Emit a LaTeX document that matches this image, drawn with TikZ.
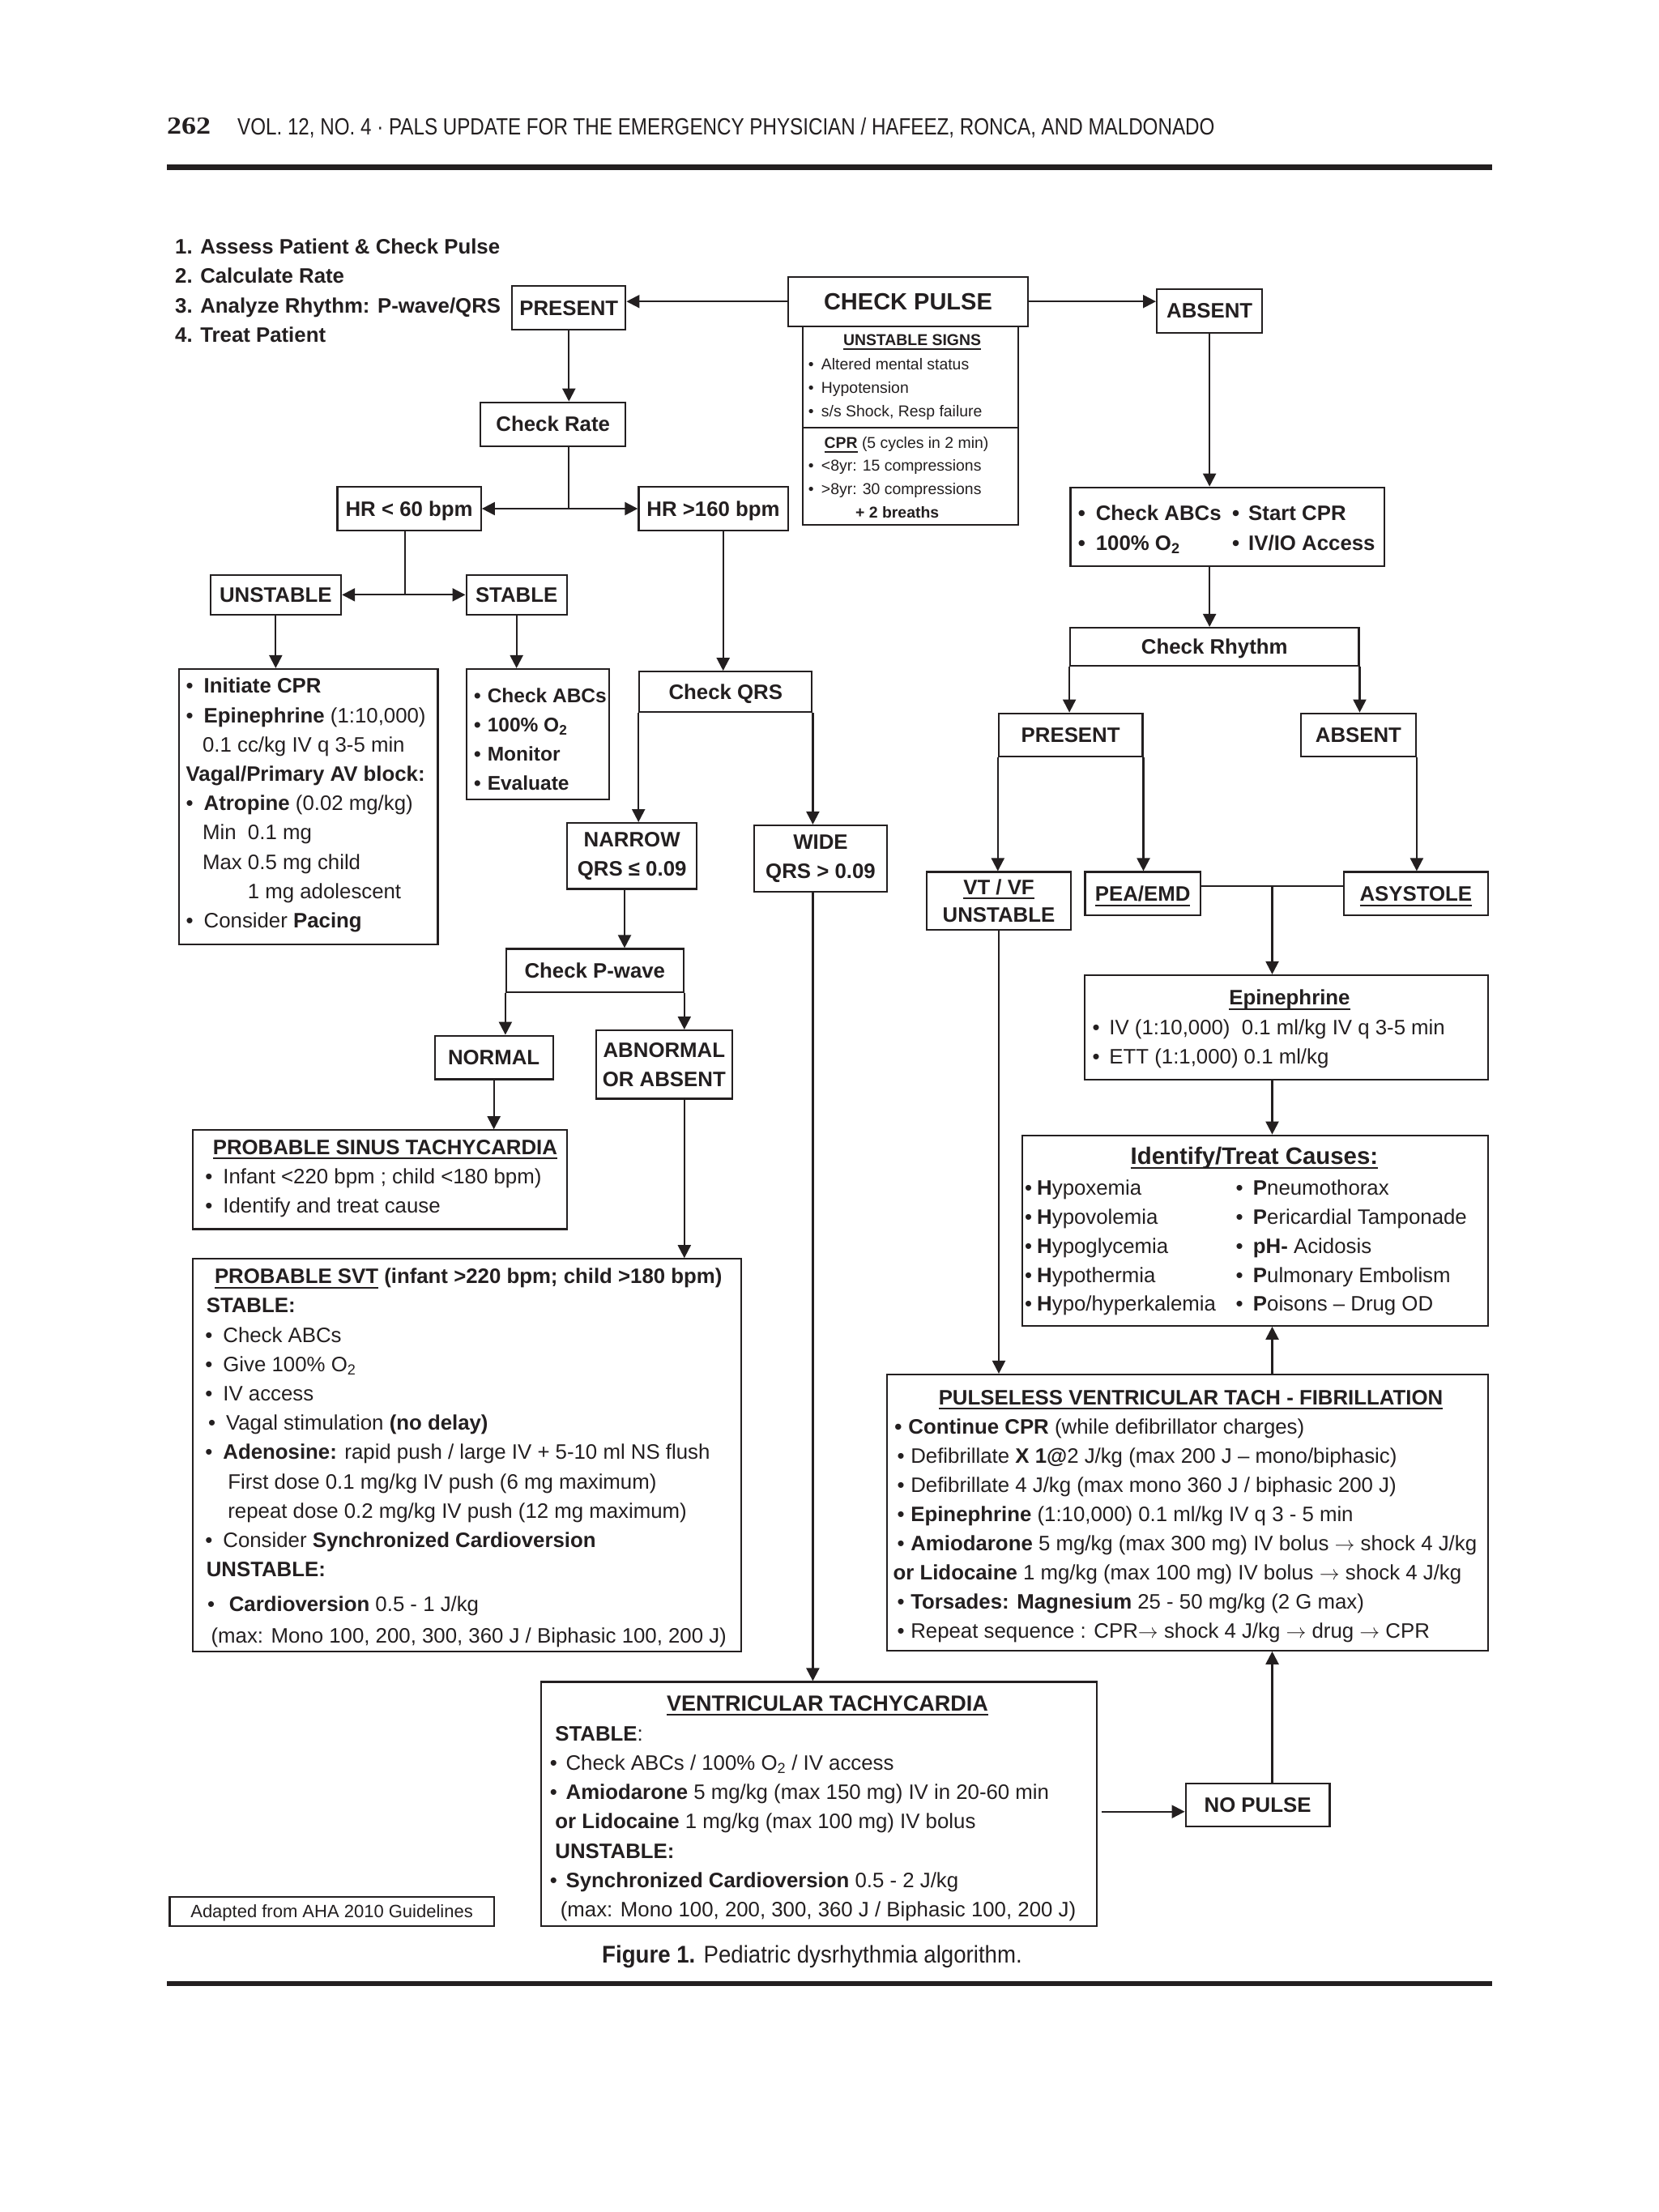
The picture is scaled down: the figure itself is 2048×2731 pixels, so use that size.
\documentclass[tikz,border=0pt]{standalone}
\usepackage{graphicx}
\usepackage{fontspec}
\setmainfont{Liberation Sans}
\newfontfamily\hdserif{Liberation Serif}
\usetikzlibrary{arrows.meta,fit}
\definecolor{ink}{RGB}{35,31,32}
\newcommand\fsz[2]{\fontsize{#1pt}{#2pt}\selectfont}
\newcommand\bu[1][10pt]{\textbullet\hspace{#1}}
\newcommand\fst{\rule{0pt}{22pt}}
\newcommand\fss{\rule{0pt}{17pt}}
\newcommand\uln[1]{\leavevmode\setbox0=\hbox{#1}\rlap{\rule[-6pt]{\wd0}{2pt}}\box0\relax}
\newcommand\ra{\ensuremath{\rightarrow}}
% labelled box: [label style]{x1}{y1}{x2}{y2}{name}{text}
\newcommand\lbox[7][]{%
  \node[bx, fit={(#2,#3)(#4,#5)}] (#6) {};
  \node[lbl,#1] (#6-t) at (#6.center) {#7};}
\begin{document}
\begin{tikzpicture}[x=1pt,y=-1pt,
  bx/.style={draw=ink, line width=2.2pt, inner sep=0pt},
  lbl/.style={inner sep=0pt, align=center, text=ink, font=\bfseries\fsz{25.8}{36},
              text height=18.5pt, text depth=0pt},
  lbl2/.style={text height=, text depth=},
  tb/.style={inner sep=0pt, anchor=north west, align=left, text=ink,
             font=\fsz{25.8}{36.2}},
  hd/.style={inner sep=0pt, anchor=base, text=ink, font=\bfseries\fsz{25.8}{30}},
  arr/.style={draw=ink, line width=2.2pt, -{Triangle[length=16pt,width=16pt]}},
  ln/.style={draw=ink, line width=2.2pt}]
\fill[white] (0,0) rectangle (2048,2731);
\useasboundingbox (0,0) rectangle (2048,2731);

% ---------- header ----------
\node[anchor=base west, inner sep=0pt, text=ink] (pgno) at (206,165)
  {\resizebox{54pt}{20pt}{\hdserif\bfseries 262}};
\node[anchor=base west, inner sep=0pt, text=ink] (runhead) at (293,166)
  {\resizebox{1206pt}{21pt}{VOL. 12, NO. 4 · PALS UPDATE FOR THE EMERGENCY PHYSICIAN / HAFEEZ, RONCA, AND MALDONADO}};
\fill[ink] (206,202.7) rectangle (1842,210);

% ---------- step list ----------
\node[tb, font=\bfseries\fsz{25.8}{36.3}] (steps) at (216,291.3)
  {\fst 1. Assess Patient \& Check Pulse\\2. Calculate Rate\\3. Analyze Rhythm: P-wave/QRS\\4. Treat Patient};

% ---------- top ----------
\node[bx, fit={(990.8,402.7)(1257.1,648.3)}] (usbox) {};
\coordinate (dv) at (990.8,528.3);
\draw[ln] (dv) -- (dv -| usbox.east);
\lbox[font=\bfseries\fsz{29}{34}, text height=20.8pt]{973}{341.7}{1268.9}{402.7}{cp}{CHECK PULSE}
\node[hd, font=\bfseries\fsz{19.4}{29}] (ushead) at (1126,426.3) {\uln{UNSTABLE SIGNS}};
\node[tb, font=\fsz{19.4}{28.9}] (uslist) at (997.6,439)
  {\fss\bu[9.4pt]Altered mental status\\\bu[9.4pt]Hypotension\\\bu[9.4pt]s/s Shock, Resp failure};
\node[hd, font=\fsz{19.4}{29}] (cprhead) at (1119,553) {\uln{\textbf{CPR}} (5 cycles in 2 min)};
\node[tb, font=\fsz{19.4}{29}] (cprlist) at (997.6,564.3)
  {\fss\bu[9.4pt]<8yr: 15 compressions\\\bu[9.4pt]>8yr: 30 compressions\\\hspace*{58.4pt}\textbf{+ 2 breaths}};

\lbox{632.3}{353.3}{772.3}{407.3}{present}{PRESENT}
\lbox{1428.1}{356.7}{1558.2}{410.7}{absent}{ABSENT}

% ---------- left branch ----------
\lbox{593.2}{496.7}{772.3}{550.7}{rate}{Check Rate}
\lbox{416.4}{601}{593.8}{655}{hrlow}{HR < 60 bpm}
\lbox{788.4}{601}{972.7}{655}{hrhigh}{HR >160 bpm}
\lbox{259.6}{710}{421.1}{758.7}{unst}{UNSTABLE}
\lbox{575.6}{710}{699.7}{758.7}{stab}{STABLE}

\node[bx, fit={(220.6,826)(540.4,1165.7)}] (cprbox) {};
\node[tb] (cprtxt) at (229.5,833.7)
  {\fst\bu[13pt]\textbf{Initiate CPR}\\
   \bu[13pt]\textbf{Epinephrine} (1:10,000)\\
   \hspace*{20.4pt}0.1 cc/kg IV q 3-5 min\\
   \textbf{Vagal/Primary AV block:}\\
   \bu[13pt]\textbf{Atropine} (0.02 mg/kg)\\
   \hspace*{20.4pt}Min\ \ 0.1 mg\\
   \hspace*{20.4pt}Max 0.5 mg child\\
   \hspace*{76.2pt}1 mg adolescent\\
   \bu[13pt]Consider \textbf{Pacing}};

\node[bx, fit={(575.6,826)(751.8,987.3)}] (sbox) {};
\node[tb, font=\bfseries\fsz{24.5}{36.1}] (stxt) at (585,845.3)
  {\fst\bu[8pt]Check ABCs\\\bu[8pt]100\% O\textsubscript{2}\\\bu[8pt]Monitor\\\bu[8pt]Evaluate};

\lbox{789.3}{829.2}{1002.3}{879.2}{qrs}{Check QRS}
\lbox[lbl2]{700}{1016.1}{860.3}{1097.5}{narrow}{NARROW\\QRS ≤ 0.09}
\lbox[lbl2]{930.7}{1019}{1095.3}{1101.2}{wide}{WIDE\\QRS > 0.09}
\lbox{625}{1171.5}{843.7}{1225.1}{pwave}{Check P-wave}
\lbox{536.6}{1278.7}{682.7}{1332.4}{normal}{NORMAL}
\lbox[lbl2]{735.7}{1272.1}{904}{1356.4}{abn}{ABNORMAL\\OR ABSENT}

\node[bx, fit={(238,1395.3)(700.1,1517.5)}] (sinus) {};
\node[tb] (sinustxt) at (253.2,1402.8)
  {\fst\hspace*{9.4pt}\textbf{\uln{PROBABLE SINUS TACHYCARDIA}}\\
   \bu[13pt]Infant <220 bpm ; child <180 bpm)\\
   \bu[13pt]Identify and treat cause};

\node[bx, fit={(238,1554.3)(915.3,2039.3)}] (svt) {};
\node[tb] (svttxt) at (253.2,1562.4)
  {\fst\hspace*{11.6pt}\textbf{\uln{PROBABLE SVT} (infant >220 bpm; child >180 bpm)}\\
   \hspace*{1.4pt}\textbf{STABLE:}\\
   \bu[13pt]Check ABCs\\
   \bu[13pt]Give 100\% O\textsubscript{2}\\
   \bu[13pt]IV access\\
   \hspace*{3.6pt}\bu[13pt]Vagal stimulation \textbf{(no delay)}\\
   \bu[13pt]\textbf{Adenosine:} rapid push / large IV + 5-10 ml NS flush\\
   \hspace*{28pt}First dose 0.1 mg/kg IV push (6 mg maximum)\\
   \hspace*{28pt}repeat dose 0.2 mg/kg IV push (12 mg maximum)\\
   \bu[13pt]Consider \textbf{Synchronized Cardioversion}\\
   \hspace*{1.4pt}\textbf{UNSTABLE:}\\[7pt]
   \hspace*{2.7pt}\bu[17.7pt]\textbf{Cardioversion} 0.5 - 1 J/kg\\[2pt]
   \hspace*{7.2pt}(max: Mono 100, 200, 300, 360 J / Biphasic 100, 200 J)};

\node[bx, fit={(668,2076.5)(1354.3,2377.7)}] (vt) {};
\node[hd, font=\bfseries\fsz{27}{30}] (vthead) at (1021.5,2112.3) {\uln{VENTRICULAR TACHYCARDIA}};
\node[tb] (vttxt) at (678.7,2127)
  {\fst\hspace*{6.5pt}\textbf{STABLE}:\\
   \bu[10.7pt]Check ABCs / 100\% O\textsubscript{2} / IV access\\
   \bu[10.7pt]\textbf{Amiodarone} 5 mg/kg (max 150 mg) IV in 20-60 min\\
   \hspace*{6.5pt}\textbf{or Lidocaine} 1 mg/kg (max 100 mg) IV bolus\\
   \hspace*{6.5pt}\textbf{UNSTABLE:}\\
   \bu[10.7pt]\textbf{Synchronized Cardioversion} 0.5 - 2 J/kg\\
   \hspace*{13pt}(max: Mono 100, 200, 300, 360 J / Biphasic 100, 200 J)};

\lbox{1463.7}{2201.7}{1641.4}{2255}{nopulse}{NO PULSE}

% ---------- right branch ----------
\node[bx, fit={(1321.4,601.7)(1709.2,699)}] (abcs) {};
\node[tb, font=\bfseries\fsz{25.8}{36.5}] (abcs1) at (1330.6,620.3)
  {\fst\bu[13pt]Check ABCs\\\bu[13pt]100\% O\textsubscript{2}};
\node[tb, font=\bfseries\fsz{25.8}{36.5}] (abcs2) at (1521,620.3)
  {\fst\bu[11pt]Start CPR\\\bu[11pt]IV/IO Access};

\lbox{1321.2}{775}{1677.4}{822.3}{rhythm}{Check Rhythm}
\lbox{1232.9}{880.7}{1410.4}{934}{present2}{PRESENT}
\lbox{1606}{880.7}{1747.8}{934}{absent2}{ABSENT}
\lbox[lbl2, font=\bfseries\fsz{25.8}{34.4}]{1144}{1076.5}{1322}{1147.7}{vtvf}{\uln{VT / VF}\\UNSTABLE}
\lbox{1339.5}{1076.5}{1481.7}{1130}{pea}{\uln{PEA/EMD}}
\lbox{1658.7}{1076.5}{1837}{1130}{asys}{\uln{ASYSTOLE}}

\node[bx, fit={(1338.8,1204)(1837,1332.7)}] (epi) {};
\node[hd] (epihead) at (1592,1240.7) {\uln{Epinephrine}};
\node[tb] (epitxt) at (1348.3,1255.3)
  {\fst\bu[11.9pt]IV (1:10,000)\ \ 0.1 ml/kg IV q 3-5 min\\\bu[11.9pt]ETT (1:1,000) 0.1 ml/kg};

\node[bx, fit={(1262,1401.7)(1837,1636.7)}] (ident) {};
\node[hd, font=\bfseries\fsz{29.4}{32}] (identhead) at (1548.4,1437.3) {\uln{Identify/Treat Causes:}};
\node[tb, font=\fsz{25.8}{35.7}] (identL) at (1265,1453.7)
  {\fst\bu[6pt]\textbf{H}ypoxemia\\\bu[6pt]\textbf{H}ypovolemia\\\bu[6pt]\textbf{H}ypoglycemia\\\bu[6pt]\textbf{H}ypothermia\\\bu[6pt]\textbf{H}ypo/hyperkalemia};
\node[tb, font=\fsz{25.8}{35.7}] (identR) at (1525.5,1453.7)
  {\fst\bu[12.2pt]\textbf{P}neumothorax\\\bu[12.2pt]\textbf{P}ericardial Tamponade\\\bu[12.2pt]\textbf{pH-} Acidosis\\\bu[12.2pt]\textbf{P}ulmonary Embolism\\\bu[12.2pt]\textbf{P}oisons – Drug OD};

\node[bx, fit={(1095,1697)(1837,2037.7)}] (pvt) {};
\node[hd] (pvthead) at (1470,1734) {\uln{PULSELESS VENTRICULAR TACH - FIBRILLATION}};
\node[tb, font=\fsz{25.8}{36}] (pvttxt) at (1102.4,1748.7)
  {\fst\hspace*{1.8pt}\textbf{\bu[8pt]Continue CPR} (while defibrillator charges)\\
   \hspace*{5pt}\bu[7.7pt]Defibrillate \textbf{X 1@}2 J/kg (max 200 J – mono/biphasic)\\
   \hspace*{5pt}\bu[7.7pt]Defibrillate 4 J/kg (max mono 360 J / biphasic 200 J)\\
   \hspace*{5pt}\bu[7.7pt]\textbf{Epinephrine} (1:10,000) 0.1 ml/kg IV q 3 - 5 min\\
   \hspace*{5pt}\bu[7.7pt]\textbf{Amiodarone} 5 mg/kg (max 300 mg) IV bolus \ra{} shock 4 J/kg\\
   \textbf{or Lidocaine} 1 mg/kg (max 100 mg) IV bolus \ra{} shock 4 J/kg\\
   \hspace*{5pt}\bu[7.7pt]\textbf{Torsades: Magnesium} 25 - 50 mg/kg (2 G max)\\
   \hspace*{5pt}\bu[7.7pt]Repeat sequence : CPR\ra{} shock 4 J/kg \ra{} drug \ra{} CPR};

% ---------- footer ----------
\lbox[font=\fsz{22}{24}, text height=15.8pt]{209.5}{2341.7}{609.7}{2378.3}{adapted}{Adapted from AHA 2010 Guidelines}
\node[anchor=base west, inner sep=0pt, text=ink] (caption) at (743,2423.3)
  {\resizebox{518.6pt}{21.6pt}{\textbf{Figure 1.} Pediatric dysrhythmia algorithm.}};
\fill[ink] (206,2445.7) rectangle (1842,2452.3);

% ---------- connectors ----------
\draw[arr] (cp.west) -- (cp.west -| present.east);
\draw[arr] (cp.east) -- (cp.east -| absent.west);
\draw[arr] (present.south) -- (present.south |- rate.north);
\coordinate (j1) at (present.south |- hrlow.east);
\draw[ln] (present.south |- rate.south) -- (j1);
\draw[arr] (j1) -- (hrlow.east);
\draw[arr] (j1) -- (hrhigh.west);
\coordinate (j2) at (499.7,734.35);
\draw[ln] (j2 |- hrlow.south) -- (j2);
\draw[arr] (j2) -- (unst.east);
\draw[arr] (j2) -- (stab.west);
\draw[arr] (unst.south) -- (unst.south |- cprbox.north);
\draw[arr] (stab.south) -- (stab.south |- sbox.north);
\coordinate (j3) at (892.7,655);
\draw[arr] (j3) -- (j3 |- qrs.north);
\draw[arr] (qrs.south west) -- (qrs.south west |- narrow.north);
\draw[arr] (qrs.south east) -- (qrs.south east |- wide.north);
\coordinate (j4) at (771,1097.5);
\draw[arr] (j4) -- (j4 |- pwave.north);
\draw[arr] (pwave.south west) -- (pwave.south west |- normal.north);
\draw[arr] (pwave.south east) -- (pwave.south east |- abn.north);
\draw[arr] (normal.south) -- (normal.south |- sinus.north);
\draw[arr] (pwave.south east |- abn.south) -- (pwave.south east |- svt.north);
\draw[arr] (qrs.south east |- wide.south) -- (qrs.south east |- vt.north);
\coordinate (j5) at (1359.6,2236.7);
\draw[arr] (j5) -- (j5 -| nopulse.west);
\coordinate (c1) at (1570.5,1094);
\draw[arr] (c1 |- nopulse.north) -- (c1 |- pvt.south);
\draw[arr] (c1 |- pvt.north) -- (c1 |- ident.south);
\draw[arr] (c1 |- epi.south) -- (c1 |- ident.north);
\draw[ln] (c1 -| pea.east) -- (c1 -| asys.west);
\draw[arr] (c1) -- (c1 |- epi.north);
\draw[arr] (vtvf.south) -- (vtvf.south |- pvt.north);
\draw[arr] (absent.south) -- (absent.south |- abcs.north);
\draw[arr] (absent.south |- abcs.south) -- (absent.south |- rhythm.north);
\draw[arr] (rhythm.south west) -- (rhythm.south west |- present2.north);
\draw[arr] (rhythm.south east) -- (rhythm.south east |- absent2.north);
\draw[arr] (present2.south west) -- (present2.south west |- vtvf.north);
\draw[arr] (present2.south east) -- (present2.south east |- pea.north);
\draw[arr] (absent2.south east) -- (absent2.south east |- asys.north);
\end{tikzpicture}
\end{document}
